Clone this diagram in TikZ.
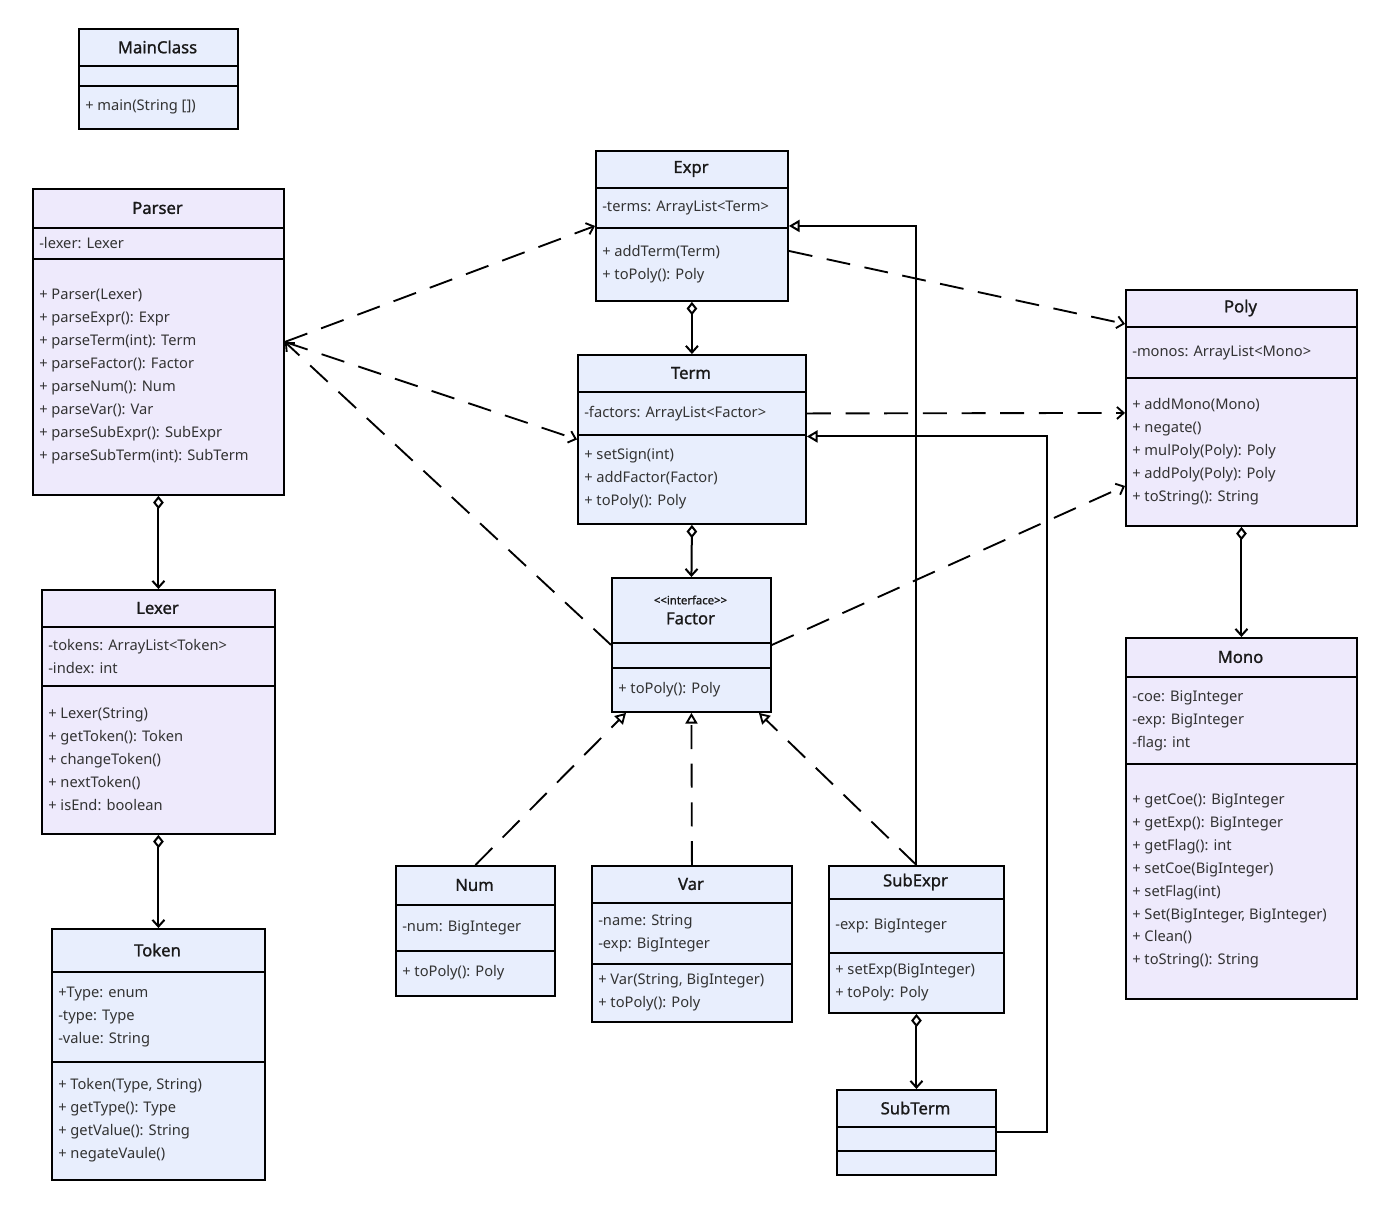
\documentclass[tikz,border=0pt]{standalone}
\usepackage{fontspec}
\setmainfont{Noto Sans}
\newfontfamily\titlefont{Noto Sans}[FakeBold=1.2]
\usetikzlibrary{arrows.meta}

\definecolor{clsblue}{HTML}{E8EEFD}
\definecolor{clspurple}{HTML}{EEEAFC}
\definecolor{membtext}{HTML}{333333}

\tikzset{
  cls/.style={draw, line width=1.4pt, inner sep=0pt, anchor=north west},
  clstitle/.style={font=\titlefont\fontsize{12.5}{15}\selectfont, align=center, text=black!90},
  memb/.style={font=\fontsize{11}{17.2}\selectfont, align=left, anchor=west, inner sep=0pt, text=membtext},
  comp/.style={{Diamond[open,length=10pt,width=8pt]}-{Straight Barb[length=5pt,width=9pt]}, line width=1.5pt},
  dep/.style={dash pattern=on 18pt off 11pt, -{Straight Barb[length=5pt,width=9pt]}, line width=1.4pt},
  real/.style={dash pattern=on 18pt off 11pt, -{Triangle[open,length=8pt,width=9pt]}, line width=1.4pt},
  inh/.style={-{Triangle[open,length=8pt,width=9pt]}, line width=1.5pt}
}

% frame: name, fill, x1, y1, x2, divider a, divider b, y2
\newcommand{\umlframe}[8]{
  \node[cls, fill=#2, minimum width={(#5-#3)*0.75pt}, minimum height={(#8-#4)*0.75pt}] (#1) at (#3,#4) {};
  \draw[line width=1.4pt] (#3,#6) -- (#5,#6);
  \draw[line width=1.4pt] (#3,#7) -- (#5,#7);
  \coordinate (#1-t) at ({(#3+#5)/2},{(#4+#6)/2});
  \coordinate (#1-a) at ({#3+7},{(#6+#7)/2});
  \coordinate (#1-m) at ({#3+7},{(#7+#8)/2});
}
% texts: name, title, attributes, methods
\newcommand{\umltext}[4]{
  \node[clstitle] at (#1-t) {#2};
  \node[memb] at (#1-a) {#3};
  \node[memb] at (#1-m) {#4};
}

\begin{document}
\begin{tikzpicture}[x=0.75pt, y=-0.75pt]
  \useasboundingbox (0,0) rectangle (1387,1207);

  % classes
  \umlframe{mainclass}{clsblue}{78}{28}{237}{66}{86}{128}
  \umltext{mainclass}{MainClass}{}{+ main(String [])}

  \umlframe{parser}{clspurple}{32}{188}{283}{228}{259}{494}
  \umltext{parser}{Parser}{-lexer: Lexer}{+ Parser(Lexer)\\+ parseExpr(): Expr\\+ parseTerm(int): Term\\+ parseFactor(): Factor\\+ parseNum(): Num\\+ parseVar(): Var\\+ parseSubExpr(): SubExpr\\+ parseSubTerm(int): SubTerm}

  \umlframe{lexer}{clspurple}{41}{589}{274}{627}{686}{833}
  \umltext{lexer}{Lexer}{-tokens: ArrayList<Token>\\-index: int}{+ Lexer(String)\\+ getToken(): Token\\+ changeToken()\\+ nextToken()\\+ isEnd: boolean}

  \umlframe{token}{clsblue}{51}{928}{264}{972}{1062}{1179}
  \umltext{token}{Token}{+Type: enum\\-type: Type\\-value: String}{+ Token(Type, String)\\+ getType(): Type\\+ getValue(): String\\+ negateVaule()}

  \umlframe{expr}{clsblue}{595}{150}{787}{188}{228}{300}
  \umltext{expr}{Expr}{-terms: ArrayList<Term>}{+ addTerm(Term)\\+ toPoly(): Poly}

  \umlframe{term}{clsblue}{577}{354}{805}{392}{435}{523}
  \umltext{term}{Term}{-factors: ArrayList<Factor>}{+ setSign(int)\\+ addFactor(Factor)\\+ toPoly(): Poly}

  \umlframe{factor}{clsblue}{611}{577}{770}{643}{668}{711}
  \umltext{factor}{{\fontsize{8.5}{10}\selectfont <{}<interface>{}>}\\Factor}{}{+ toPoly(): Poly}

  \umlframe{num}{clsblue}{395}{865}{554}{905}{951}{995}
  \umltext{num}{Num}{-num: BigInteger}{+ toPoly(): Poly}

  \umlframe{var}{clsblue}{591}{865}{791}{903}{964}{1021}
  \umltext{var}{Var}{-name: String\\-exp: BigInteger}{+ Var(String, BigInteger)\\+ toPoly(): Poly}

  \umlframe{subexpr}{clsblue}{828}{865}{1003}{899}{953}{1012}
  \umltext{subexpr}{SubExpr}{-exp: BigInteger}{+ setExp(BigInteger)\\+ toPoly: Poly}

  \umlframe{subterm}{clsblue}{836}{1089}{995}{1127}{1151}{1174}
  \umltext{subterm}{SubTerm}{}{}

  \umlframe{poly}{clspurple}{1125}{289}{1356}{327}{378}{525}
  \umltext{poly}{Poly}{-monos: ArrayList<Mono>}{+ addMono(Mono)\\+ negate()\\+ mulPoly(Poly): Poly\\+ addPoly(Poly): Poly\\+ toString(): String}

  \umlframe{mono}{clspurple}{1125}{637}{1356}{677}{764}{998}
  \umltext{mono}{Mono}{-coe: BigInteger\\-exp: BigInteger\\-flag: int}{+ getCoe(): BigInteger\\+ getExp(): BigInteger\\+ getFlag(): int\\+ setCoe(BigInteger)\\+ setFlag(int)\\+ Set(BigInteger, BigInteger)\\+ Clean()\\+ toString(): String}

  % composition
  \draw[comp] (parser.south) -- (lexer.north);
  \draw[comp] (lexer.south) -- (token.north);
  \draw[comp] (expr.south) -- (term.north);
  \draw[comp] (term.south) -- (factor.north);
  \draw[comp] (poly.south) -- (mono.north);
  \draw[comp] (subexpr.south) -- (subterm.north);

  % dependencies
  \draw[dep] (parser.east) -- (expr.west);
  \draw[dep] (parser.east) -- (term.west);
  \draw[dep] (factor.west) -- (parser.east);
  \draw[dep] ([yshift=-18.75pt]expr.east) -- ([yshift=63pt]poly.west);
  \draw[dep] ([yshift=19.5pt]term.east) -- ([yshift=-3.75pt]poly.west);
  \draw[dep] (factor.east) -- ([yshift=-58.5pt]poly.west);

  % realisation
  \draw[real] (num.north) -- ([xshift=11.25pt]factor.south west);
  \draw[real] (var.north) -- (factor.south);
  \draw[real] (subexpr.north) -- ([xshift=-9.75pt]factor.south east);

  % inheritance
  \draw[inh] (subexpr.north) |- (expr.east);
  \draw[inh] (subterm.east) -- ++(50,0) |- ([yshift=2.25pt]term.east);
\end{tikzpicture}
\end{document}
